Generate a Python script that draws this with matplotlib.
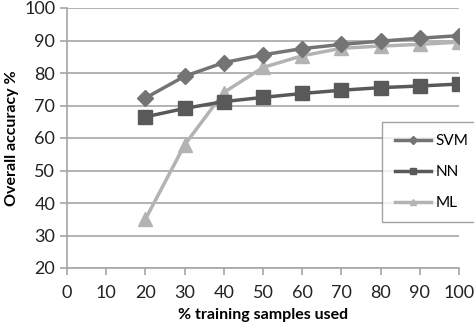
import matplotlib.pyplot as plt

x_pct = [20, 30, 40, 50, 60, 70, 80, 90, 100]
svm = [72.3, 79.0, 83.2, 85.6, 87.5, 88.8, 89.8, 90.7, 91.5]
nn = [66.5, 69.1, 71.2, 72.5, 73.7, 74.7, 75.5, 76.0, 76.6]
ml = [35.0, 57.9, 74.0, 81.7, 85.3, 87.6, 88.3, 88.8, 89.5]

plt.rcParams['font.family'] = ['Lato', 'DejaVu Sans']

fig = plt.figure(figsize=(4.74, 3.26), dpi=100)
ax = fig.add_axes([67 / 474, 1 - 268 / 326, 392 / 474, 260 / 326])

grid_c = '#a6a6a6'
ax.set_xlim(0, 100)
ax.set_ylim(20, 100)
ax.set_xticks(range(0, 101, 10))
ax.set_yticks(range(20, 101, 10))
ax.yaxis.grid(True, color=grid_c, linewidth=1.2)
ax.set_axisbelow(True)
for s in ['top', 'right']:
    ax.spines[s].set_visible(False)
for s in ['left', 'bottom']:
    ax.spines[s].set_color(grid_c)
    ax.spines[s].set_linewidth(1.2)
ax.tick_params(colors=grid_c, labelcolor='#222222', labelsize=13,
               length=5, width=1.2)
ax.tick_params(axis='x', pad=7)

ax.plot(x_pct, ml, color='#b3b3b3', linewidth=2.5, marker='^',
        markersize=10, label='ML', zorder=3)
ax.plot(x_pct, svm, color='#747474', linewidth=2.5, marker='D',
        markersize=8, label='SVM', zorder=4)
ax.plot(x_pct, nn, color='#595959', linewidth=2.5, marker='s',
        markersize=10, label='NN', zorder=4)

handles, labels = ax.get_legend_handles_labels()
order = [1, 2, 0]
leg = ax.legend([handles[i] for i in order], [labels[i] for i in order],
                loc='upper left', bbox_to_anchor=(0.785, 0.59),
                fontsize=11, frameon=True, fancybox=False,
                edgecolor='#8c8c8c', markerscale=0.45,
                handlelength=2.4, labelspacing=1.1, borderpad=0.8,
                handletextpad=0.3)
leg.get_frame().set_linewidth(1.0)

ax.set_xlabel('% training samples used', fontsize=11.5, fontweight='bold',
              labelpad=5)
ax.set_ylabel('Overall accuracy %', fontsize=11.5, fontweight='bold',
              labelpad=4)

fig.savefig('out.png', dpi=100)
